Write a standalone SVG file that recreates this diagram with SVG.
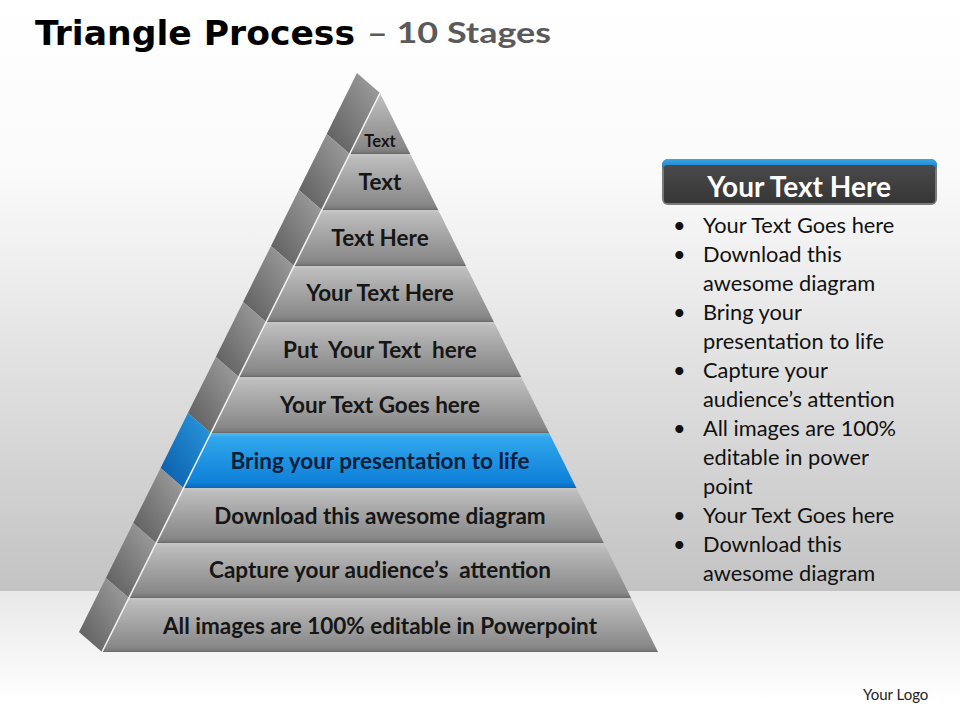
<svg xmlns="http://www.w3.org/2000/svg" width="960" height="720" viewBox="0 0 960 720">
<defs>
<linearGradient id="bgTop" x1="0" y1="0" x2="0" y2="591" gradientUnits="userSpaceOnUse">
<stop offset="0" stop-color="#ffffff"/><stop offset="0.3" stop-color="#fafafa"/><stop offset="1" stop-color="#c3c3c3"/>
</linearGradient>
<linearGradient id="bgBot" x1="0" y1="591" x2="0" y2="700" gradientUnits="userSpaceOnUse">
<stop offset="0" stop-color="#e8e8e8"/><stop offset="1" stop-color="#ffffff"/>
</linearGradient>
<linearGradient id="gBand" x1="0" y1="0" x2="0" y2="1">
<stop offset="0" stop-color="#c8c8c8"/><stop offset="0.08" stop-color="#bcbcbc"/><stop offset="0.9" stop-color="#888888"/><stop offset="0.97" stop-color="#7a7a7a"/><stop offset="1" stop-color="#666666"/>
</linearGradient>
<linearGradient id="bBand" x1="0" y1="0" x2="0" y2="1">
<stop offset="0" stop-color="#4db8f2"/><stop offset="0.1" stop-color="#2fa6ec"/><stop offset="0.9" stop-color="#0f80d8"/><stop offset="1" stop-color="#0a66b8"/>
</linearGradient>
<linearGradient id="gSide" x1="1" y1="0" x2="0" y2="1">
<stop offset="0" stop-color="#a2a2a2"/><stop offset="1" stop-color="#5a5a5a"/>
</linearGradient>
<linearGradient id="bSide" x1="1" y1="0" x2="0" y2="1">
<stop offset="0" stop-color="#2a9ae0"/><stop offset="1" stop-color="#0a5aa8"/>
</linearGradient>
<linearGradient id="hdr" x1="0" y1="0" x2="0" y2="1">
<stop offset="0" stop-color="#4a4a4a"/><stop offset="1" stop-color="#363636"/>
</linearGradient>
<linearGradient id="hdrTop" x1="0" y1="0" x2="0" y2="1">
<stop offset="0" stop-color="#3aa6e6"/><stop offset="1" stop-color="#0f74bf"/>
</linearGradient>
</defs>
<style>
.band{fill:url(#gBand)}
.bandB{fill:url(#bBand)}
.side{fill:url(#gSide)}
.sideB{fill:url(#bSide)}
.lbl{font-family:Lato,"Liberation Sans",Arial,sans-serif;font-weight:bold;font-size:22.5px;fill:#161616;text-anchor:middle;white-space:pre}
.lblB{fill:#0b1e3c}
.bul{font-family:Lato,"Liberation Sans",sans-serif;font-size:21.8px;fill:#111111}
</style>
<rect x="0" y="0" width="960" height="591" fill="url(#bgTop)"/>
<rect x="0" y="591" width="960" height="129" fill="url(#bgBot)"/>

<g id="title">
<text x="35" y="45" font-family="'DejaVu Sans','Liberation Sans',sans-serif" font-weight="bold" font-size="33" fill="#000000" textLength="320" lengthAdjust="spacingAndGlyphs">Triangle Process</text>
<text x="367" y="43" font-family="Lato,'Liberation Sans',sans-serif" font-weight="bold" font-size="29" fill="#5a5a5a" textLength="184" lengthAdjust="spacingAndGlyphs">– 10 Stages</text>
</g>

<g id="pyramid">
<g id="stage1">
<polygon class="side" points="380,93 349.7,154 326.7,134 357,73"/>
<polygon class="band" points="380,93 410.3,154 349.7,154"/>
<text class="lbl" x="380" y="147" style="font-size:16.5px">Text</text>
</g>
<g id="stage2">
<polygon class="side" points="349.7,154 321.8,210 298.8,190 326.7,134"/>
<polygon class="band" points="349.7,154 410.3,154 438.2,210 321.8,210"/>
<text class="lbl" x="380" y="190">Text</text>
</g>
<g id="stage3">
<polygon class="side" points="321.8,210 294,266 271,246 298.8,190"/>
<polygon class="band" points="321.8,210 438.2,210 466,266 294,266"/>
<text class="lbl" x="380" y="246">Text Here</text>
</g>
<g id="stage4">
<polygon class="side" points="294,266 266.1,322 243.1,302 271,246"/>
<polygon class="band" points="294,266 466,266 493.9,322 266.1,322"/>
<text class="lbl" x="380" y="301">Your Text Here</text>
</g>
<g id="stage5">
<polygon class="side" points="266.1,322 238.8,377 215.8,357 243.1,302"/>
<polygon class="band" points="266.1,322 493.9,322 521.2,377 238.8,377"/>
<text class="lbl" x="380" y="358">Put  Your Text  here</text>
</g>
<g id="stage6">
<polygon class="side" points="238.8,377 210.9,433 187.9,413 215.8,357"/>
<polygon class="band" points="238.8,377 521.2,377 549.1,433 210.9,433"/>
<text class="lbl" x="380" y="413">Your Text Goes here</text>
</g>
<g id="stage7">
<polygon class="sideB" points="210.9,433 183.6,488 160.6,468 187.9,413"/>
<polygon class="bandB" points="210.9,433 549.1,433 576.4,488 183.6,488"/>
<text class="lbl lblB" x="380" y="469">Bring your presentation to life</text>
</g>
<g id="stage8">
<polygon class="side" points="183.6,488 156.2,543 133.2,523 160.6,468"/>
<polygon class="band" points="183.6,488 576.4,488 603.8,543 156.2,543"/>
<text class="lbl" x="380" y="524">Download this awesome diagram</text>
</g>
<g id="stage9">
<polygon class="side" points="156.2,543 128.9,598 105.9,578 133.2,523"/>
<polygon class="band" points="156.2,543 603.8,543 631.1,598 128.9,598"/>
<text class="lbl" x="380" y="578">Capture your audience’s  attention</text>
</g>
<g id="stage10">
<polygon class="side" points="128.9,598 102,652 79,632 105.9,578"/>
<polygon class="band" points="128.9,598 631.1,598 658,652 102,652"/>
<text class="lbl" x="380" y="634">All images are 100% editable in Powerpoint</text>
</g>
<line x1="380" y1="93" x2="102" y2="652" stroke="#f4f4f4" stroke-width="1.5"/>
</g>

<g id="header">
<rect x="662" y="159" width="275" height="46" rx="6" fill="#7a7a7a"/>
<rect x="662" y="159" width="275" height="12" rx="6" fill="url(#hdrTop)"/>
<rect x="664" y="165" width="271" height="38" rx="3" fill="url(#hdr)"/>
<text x="799" y="197" font-family="Lato,'Liberation Sans',sans-serif" font-weight="bold" font-size="28" fill="#ffffff" text-anchor="middle">Your Text Here</text>
</g>

<g id="bullets" class="bul">
<text x="673" y="233">•</text><text x="703" y="233">Your Text Goes here</text>
<text x="673" y="262">•</text><text x="703" y="262">Download this</text>
<text x="703" y="291">awesome diagram</text>
<text x="673" y="320">•</text><text x="703" y="320">Bring your</text>
<text x="703" y="349">presentation to life</text>
<text x="673" y="378">•</text><text x="703" y="378">Capture your</text>
<text x="703" y="407">audience’s attention</text>
<text x="673" y="436">•</text><text x="703" y="436">All images are 100%</text>
<text x="703" y="465">editable in power</text>
<text x="703" y="494">point</text>
<text x="673" y="523">•</text><text x="703" y="523">Your Text Goes here</text>
<text x="673" y="552">•</text><text x="703" y="552">Download this</text>
<text x="703" y="581">awesome diagram</text>
</g>

<g id="logo">
<text x="863" y="700" font-family="Lato,'Liberation Sans',sans-serif" font-size="15" fill="#222222">Your Logo</text>
</g>
</svg>
